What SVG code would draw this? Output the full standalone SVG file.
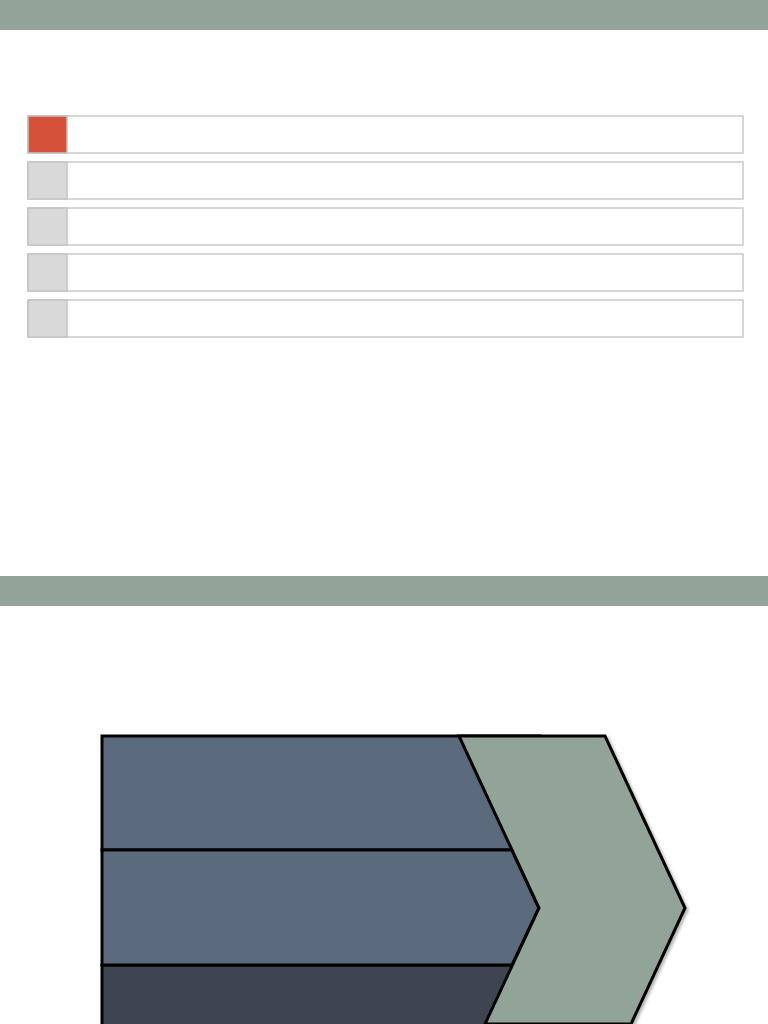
<svg xmlns="http://www.w3.org/2000/svg" width="768" height="1024" viewBox="0 0 768 1024">
<style>
.bar{fill:#92A398}
.row{fill:#FFFFFF;stroke:#C9C9C9;stroke-width:1.5}
.sq{fill:#D9D9D9;stroke:#C4C4C4;stroke-width:1.5}
.sq1{fill:#D35239;stroke:#C4C4C4;stroke-width:1.5}
.blk{stroke:#000;stroke-width:3;stroke-linejoin:miter}
</style>
<defs>
<filter id="sh" x="-10%" y="-10%" width="130%" height="130%">
<feDropShadow dx="2" dy="2" stdDeviation="1.5" flood-color="#000" flood-opacity="0.3"/>
</filter>
</defs>
<rect width="768" height="1024" fill="#FFFFFF"/>
<rect class="bar" x="0" y="0" width="768" height="30"/>
<rect class="bar" x="0" y="576" width="768" height="30"/>
<g id="list">
<g id="item1"><rect class="row" x="28" y="116" width="715" height="37"/><rect class="sq1" x="28" y="116" width="39" height="37"/></g>
<g id="item2"><rect class="row" x="28" y="162" width="715" height="37"/><rect class="sq" x="28" y="162" width="39" height="37"/></g>
<g id="item3"><rect class="row" x="28" y="208" width="715" height="37"/><rect class="sq" x="28" y="208" width="39" height="37"/></g>
<g id="item4"><rect class="row" x="28" y="254" width="715" height="37"/><rect class="sq" x="28" y="254" width="39" height="37"/></g>
<g id="item5"><rect class="row" x="28" y="300" width="715" height="37"/><rect class="sq" x="28" y="300" width="39" height="37"/></g>
</g>
<g id="block1"><rect class="blk" x="102" y="736" width="438" height="114" fill="#5B6A7D"/></g>
<g id="block3"><rect class="blk" x="102" y="965" width="438" height="70" fill="#3F4550"/></g>
<g id="block2"><polygon class="blk" points="102,850 512,850 539,908 512,965 102,965" fill="#5B6A7D"/></g>
<g id="chevron"><polygon class="blk" points="459,736 605,736 685,908 631,1024 485,1024 539,908" fill="#92A398" filter="url(#sh)"/></g>
</svg>
